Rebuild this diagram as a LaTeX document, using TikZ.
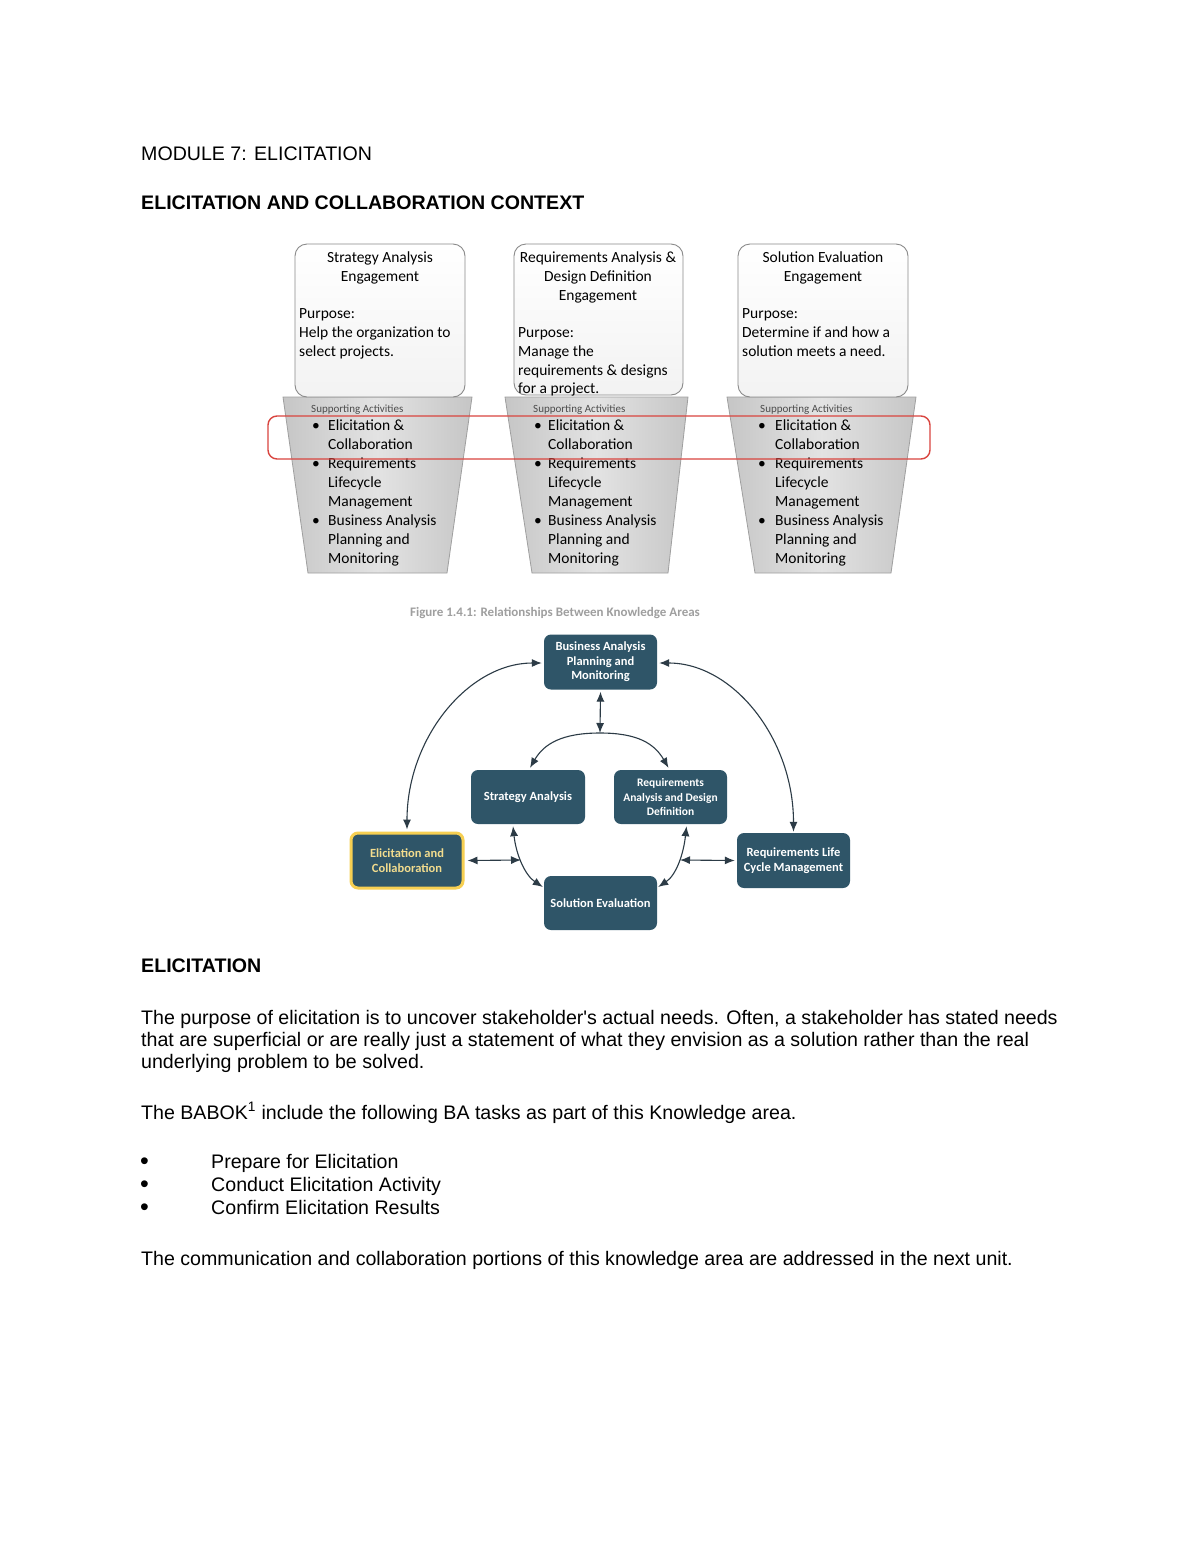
\documentclass[tikz,border=0pt]{standalone}
\usepackage{fontspec}
\setmainfont{Liberation Sans}
\newfontfamily\cfont{Carlito}
\usetikzlibrary{arrows.meta,calc}
\definecolor{kanode}{HTML}{2F5568}
\definecolor{kaline}{HTML}{2C3B46}
\definecolor{kayellow}{HTML}{F6CF52}
\definecolor{katext}{HTML}{F2DC8E}
\definecolor{redbox}{HTML}{D9453F}
\definecolor{boxline}{HTML}{8A8A8A}
\tikzset{
  body/.style={inner sep=0pt, anchor=base west, font=\fontsize{19.6}{22}\selectfont},
  bodyb/.style={body, font=\fontsize{19.6}{22}\selectfont\bfseries},
  bigbul/.style={body, font=\fontsize{25}{22}\selectfont, text height=7pt, text depth=0pt},
  ebox/.style={draw=boxline, line width=0.9pt, rounded corners=12pt, top color=white, bottom color=gray!10},
  trap/.style={draw=gray!75, line width=0.8pt, left color=gray!45, right color=gray!45, middle color=gray!22},
  dtxt/.style={inner sep=0pt, font=\cfont\fontsize{15.5}{19}\selectfont},
  dtl/.style={dtxt, anchor=base west},
  dtc/.style={dtxt, anchor=base},
  suptxt/.style={inner sep=0pt, anchor=base west, font=\cfont\fontsize{11}{13}\selectfont, text=gray!60!black},
  kabox/.style={rounded corners=7pt, fill=kanode, text=white, align=center, inner sep=1pt,
     minimum width=113pt, minimum height=55pt, font=\cfont\bfseries\fontsize{12.5}{15}\selectfont},
  conn/.style={draw=kaline, line width=1.1pt, {Latex[length=10pt,width=8pt]}-{Latex[length=10pt,width=8pt]}},
}
\begin{document}
\begin{tikzpicture}[x=1pt,y=-1pt]
\useasboundingbox (0,0) rectangle (1200,1553);
\fill[white] (0,0) rectangle (1200,1553);

% ---------- headings ----------
\node[body] (h1) at (141,160) {MODULE 7: ELICITATION};
\node[bodyb] (h2) at (141,209) {ELICITATION AND COLLABORATION CONTEXT};

% ---------- top diagram ----------
\draw[trap] (283,397) -- (472,397) -- (447,573) -- (308,573) -- cycle;
\draw[trap] (505,397) -- (688,397) -- (668,573) -- (532,573) -- cycle;
\draw[trap] (727,397) -- (916,397) -- (891,573) -- (755,573) -- cycle;

\node[ebox, minimum width=170pt, minimum height=153pt] (b1) at (380,320.5) {};
\node[ebox, minimum width=169pt, minimum height=151pt] (b2) at (598.5,319.5) {};
\node[ebox, minimum width=170pt, minimum height=153pt] (b3) at (823,320.5) {};

\node[dtc] (b1t1) at (380,262) {Strategy Analysis};
\node[dtc] (b1t2) at (380,281) {Engagement};
\node[dtl] (b1t3) at (299,318) {Purpose:};
\node[dtl] (b1t4) at (299,337) {Help the organization to};
\node[dtl] (b1t5) at (299,356) {select projects.};

\node[dtc] (b2t1) at (598,262) {Requirements Analysis \&};
\node[dtc] (b2t2) at (598,281) {Design Definition};
\node[dtc] (b2t3) at (598,300) {Engagement};
\node[dtl] (b2t4) at (518,337) {Purpose:};
\node[dtl] (b2t5) at (518,356) {Manage the};
\node[dtl] (b2t6) at (518,375) {requirements \& designs};
\node[dtl] (b2t7) at (518,393) {for a project.};

\node[dtc] (b3t1) at (823,262) {Solution Evaluation};
\node[dtc] (b3t2) at (823,281) {Engagement};
\node[dtl] (b3t3) at (742,318) {Purpose:};
\node[dtl] (b3t4) at (742,337) {Determine if and how a};
\node[dtl] (b3t5) at (742,356) {solution meets a need.};

\foreach \k/\sx/\bx/\tx in {1/311/316/328, 2/533/538/548, 3/760/762/775}{
  \node[suptxt] (s\k) at (\sx,412) {Supporting Activities};
  \foreach \j/\yy/\txt in {1/430/{Elicitation \&}, 2/449/Collaboration, 3/468/Requirements,
        4/487/Lifecycle, 5/506/Management, 6/525/Business Analysis, 7/544/Planning and, 8/563/Monitoring}{
    \node[dtl] (t\k-\j) at (\tx,\yy) {\txt};
  }
  \foreach \j/\yy in {1/430, 3/468, 6/525}{
    \node[dtc] (bul\k-\j) at (\bx,\yy) {\textbullet};
  }
}

\draw[redbox, line width=1.4pt, rounded corners=9pt] (268,416) rectangle (930,459);

% ---------- caption ----------
\node[inner sep=0pt, font=\cfont\bfseries\fontsize{13}{15}\selectfont, text=gray!75] (cap) at (555,613) {Figure 1.4.1: Relationships Between Knowledge Areas};

% ---------- knowledge area diagram ----------
\node[kabox] (bapm) at (600.5,662) {Business Analysis\\[-0.5pt]Planning and\\[-0.5pt]Monitoring};
\node[kabox, minimum height=54pt, minimum width=114pt] (sa) at (528,797) {Strategy Analysis};
\node[kabox, minimum height=54pt, font=\cfont\bfseries\fontsize{11.5}{14.5}\selectfont] (radd) at (670.5,797) {Requirements\\Analysis and Design\\Definition};
\node[kabox, minimum width=112pt, text=katext, draw=kayellow, line width=3pt] (ec) at (407,860.5) {Elicitation and\\Collaboration};
\node[kabox, minimum height=54pt] (se) at (600.5,903) {Solution Evaluation};
\node[kabox] (rlcm) at (793.5,860.5) {Requirements Life\\Cycle Management};

\coordinate (mtop) at (600,733);
\coordinate (arcl) at (521,860);
\coordinate (arcr) at (680,860);

\draw[conn] ($(ec.north)+(0,-2)$) .. controls +(0,-92) and +(-73,0) .. ($(bapm.west)+(-2,1)$);
\draw[conn] ($(bapm.east)+(2,1)$) .. controls +(74,0) and +(0,-93) .. ($(rlcm.north)+(0,-1)$);
\draw[conn] ($(bapm.south)+(0,2)$) -- (mtop);
\draw[conn] ($(sa.north)+(2,-2)$) .. controls +(14,-24) and +(-38,0) .. (mtop) .. controls +(38,0) and +(-14,-24) .. ($(radd.north)+(-2,-2)$);
\draw[conn] ($(sa.south)+(-15,2)$) .. controls +(3,28) and +(-18,-12) .. ($(se.west)+(-1,-16)$);
\draw[conn] ($(radd.south)+(16,2)$) .. controls +(-3,28) and +(18,-12) .. ($(se.east)+(1,-16)$);
\draw[conn] ($(ec.east)+(3,0)$) -- (arcl);
\draw[conn] (arcr) -- ($(rlcm.west)+(-2,0)$);

% ---------- body text ----------
\node[bodyb] (h3) at (141,972) {ELICITATION};
\node[body] (p1) at (141,1024) {The purpose of elicitation is to uncover stakeholder\textquotesingle s actual needs. Often, a stakeholder has stated needs};
\node[body] (p2) at (141,1046) {that are superficial or are really just a statement of what they envision as a solution rather than the real};
\node[body] (p3) at (141,1068) {underlying problem to be solved.};
\node[body] (p4) at (141,1119) {The BABOK\textsuperscript{1} include the following BA tasks as part of this Knowledge area.};
\node[bigbul] (bl1) at (140,1169) {\textbullet};
\node[bigbul] (bl2) at (140,1192) {\textbullet};
\node[bigbul] (bl3) at (140,1215) {\textbullet};
\node[body] (l1) at (211,1168) {Prepare for Elicitation};
\node[body] (l2) at (211,1191) {Conduct Elicitation Activity};
\node[body] (l3) at (211,1214) {Confirm Elicitation Results};
\node[body] (p5) at (141,1265) {The communication and collaboration portions of this knowledge area are addressed in the next unit.};
\end{tikzpicture}
\end{document}
